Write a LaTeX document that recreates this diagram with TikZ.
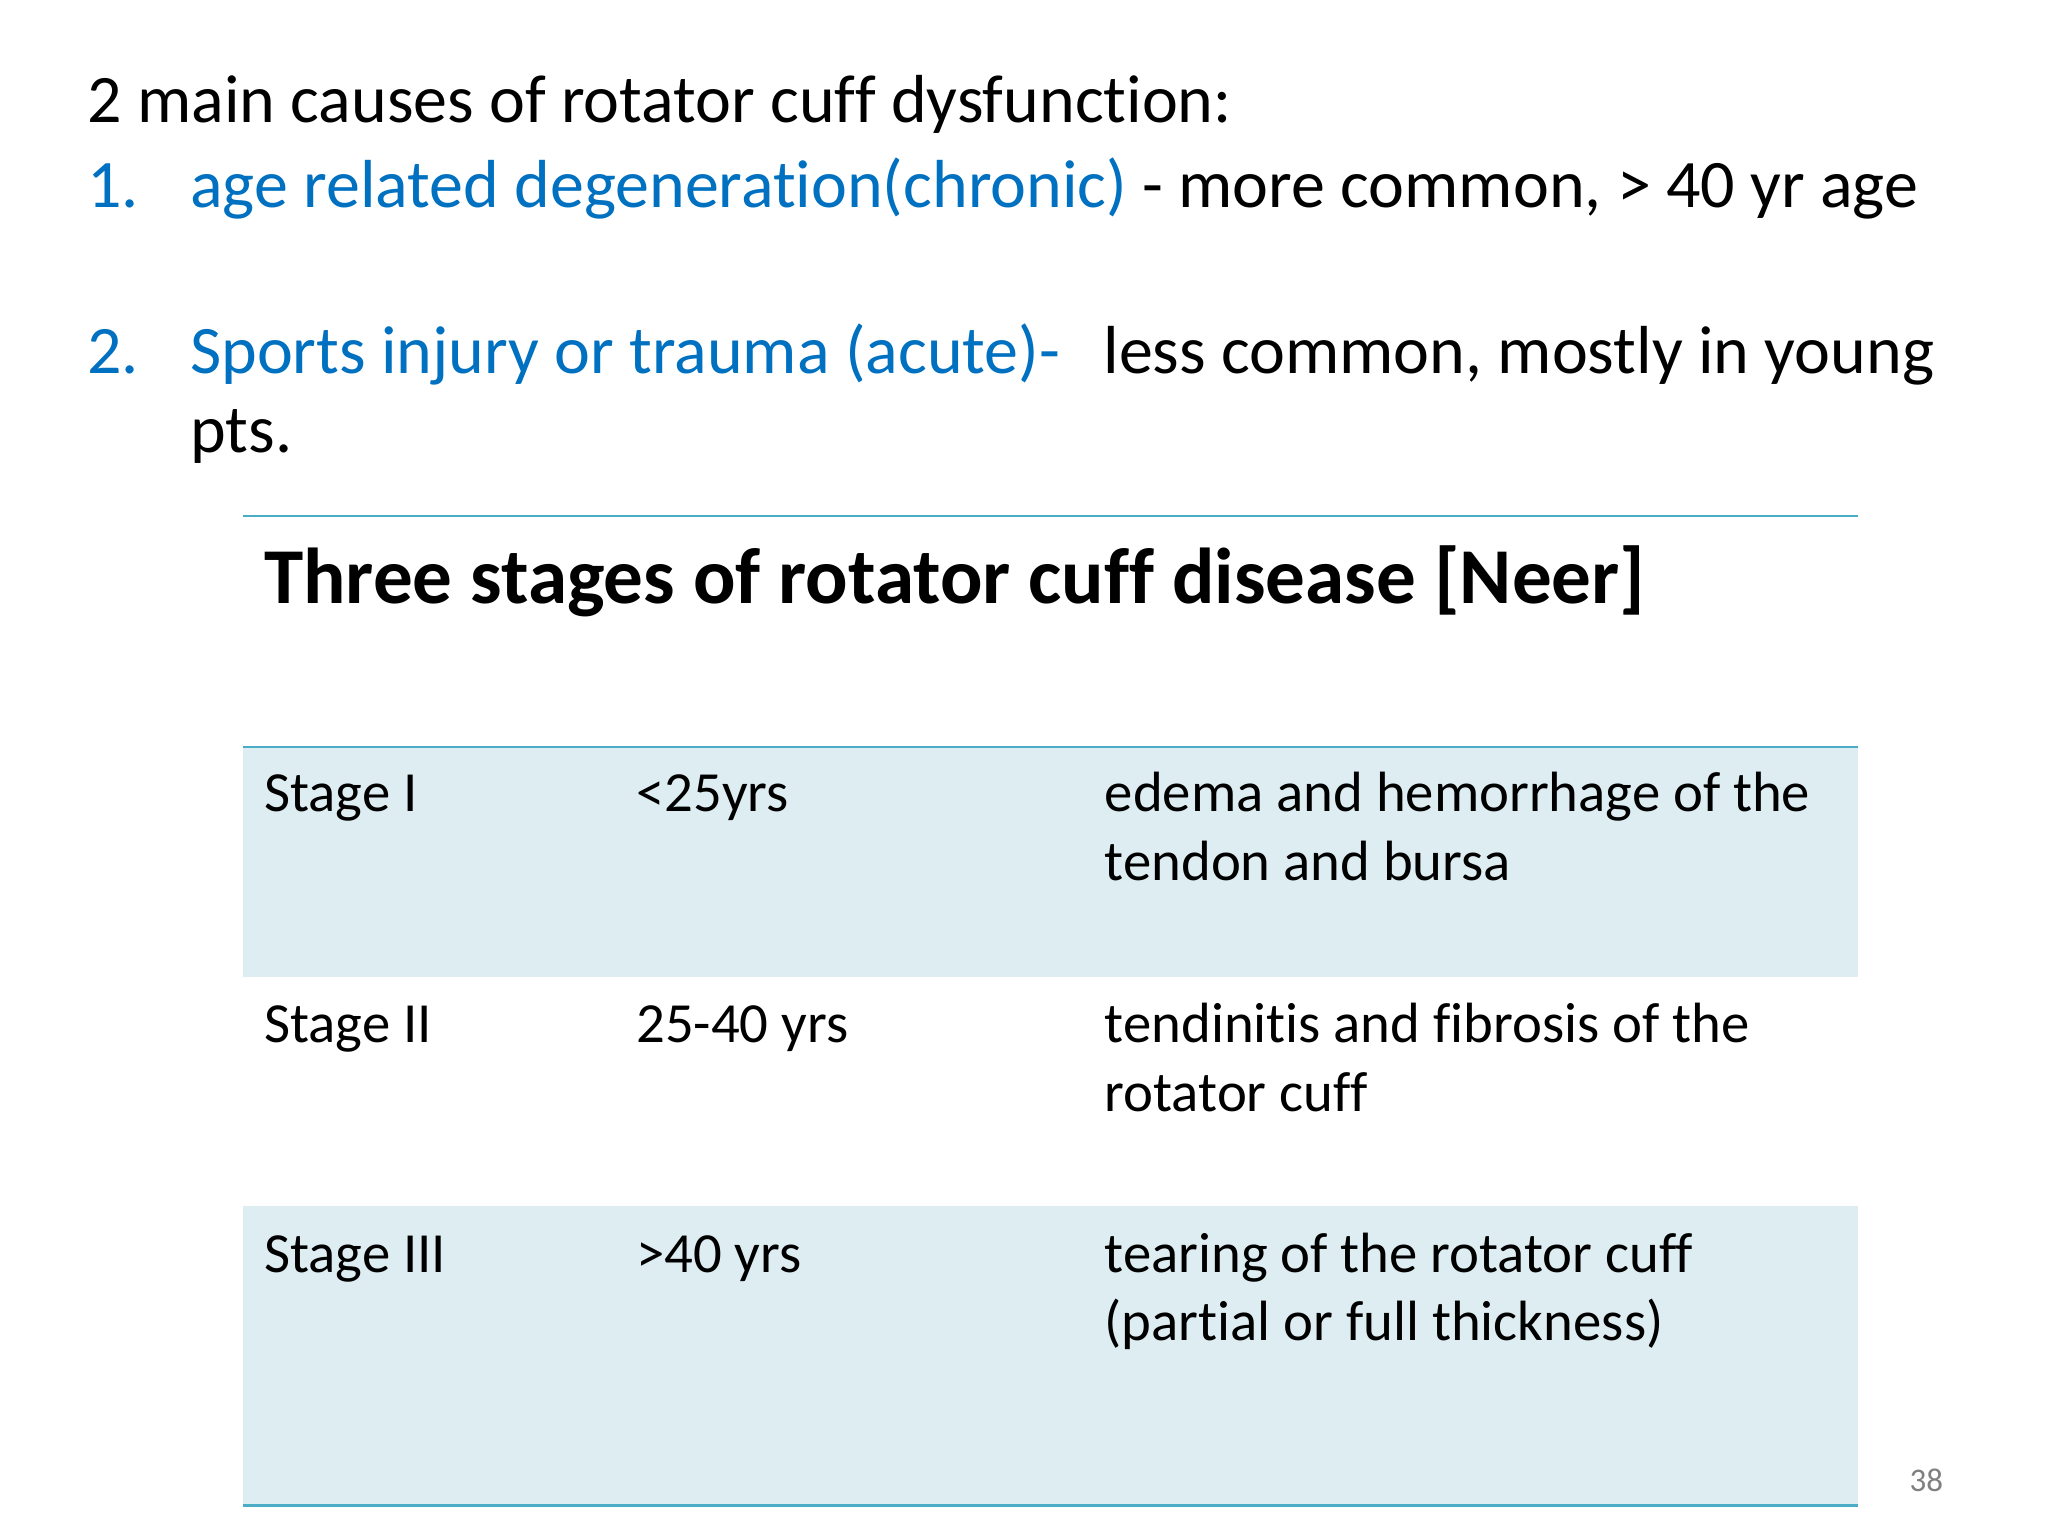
\documentclass[tikz,border=0pt]{standalone}
\usepackage{fontspec}
\setmainfont{Carlito}[RawFeature={-liga}]
\definecolor{ablue}{HTML}{0070C0}
\definecolor{rule}{HTML}{4BACC6}
\definecolor{rowfill}{HTML}{DDEDF2}
\begin{document}
\begin{tikzpicture}[x=1pt,y=-1pt,
  txt/.style={anchor=base west,inner sep=0pt,font=\fontsize{51.5}{60}\selectfont},
  cell/.style={anchor=base west,inner sep=0pt,font=\fontsize{43}{50}\selectfont},
  hrule/.style={draw=rule,line width=2pt}]
\useasboundingbox (0,0) rectangle (1552,1164);
\fill[white] (0,0) rectangle (1552,1164);
\fill[rowfill] (184,566) rectangle (1408,740);
\fill[rowfill] (184,914) rectangle (1408,1141);
\draw[hrule] (184,391) -- (1408,391);
\draw[hrule] (184,566) -- (1408,566);
\draw[hrule] (184,1141) -- (1408,1141);
\node[txt] (l0) at (66,93) {2 main causes of rotator cuff dysfunction:};
\node[txt,text=ablue] (n1) at (66,157) {1.};
\node[txt] (t1) at (144,157) {\textcolor{ablue}{age related degeneration(chronic)} - more common, > 40 yr age};
\node[txt,text=ablue] (n2) at (66,283) {2.};
\node[txt,text=ablue] (t2) at (144,283) {Sports injury or trauma (acute)-};
\node[txt] (t2b) at (836,283) {less common, mostly in young};
\node[txt] (t2c) at (144,343) {pts.};
\node[anchor=base west,inner sep=0pt,font=\fontsize{60}{70}\selectfont\bfseries] (title) at (200,457) {Three stages of rotator cuff disease [Neer]};
\node[cell] (s1) at (200,615) {Stage I};
\node[cell] (a1) at (482,615) {<25yrs};
\node[cell] (d1) at (837,615) {edema and hemorrhage of the};
\node[cell] (d1b) at (837,667) {tendon and bursa};
\node[cell] (s2) at (200,790) {Stage II};
\node[cell] (a2) at (482,790) {25-40 yrs};
\node[cell] (d2) at (837,790) {tendinitis and fibrosis of the};
\node[cell] (d2b) at (837,842) {rotator cuff};
\node[cell] (s3) at (200,964) {Stage III};
\node[cell] (a3) at (482,964) {>40 yrs};
\node[cell] (d3) at (837,964) {tearing of the rotator cuff};
\node[cell] (d3b) at (837,1016) {(partial or full thickness)};
\node[anchor=base west,inner sep=0pt,font=\fontsize{25}{30}\selectfont,text=gray] (pg) at (1447,1130) {38};
\end{tikzpicture}
\end{document}
